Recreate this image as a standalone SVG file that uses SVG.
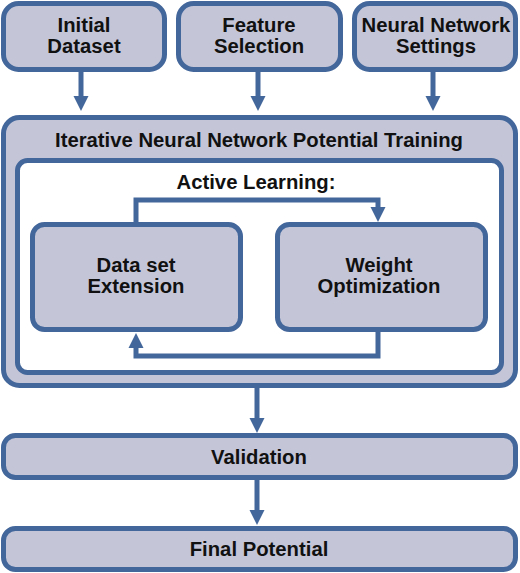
<svg xmlns="http://www.w3.org/2000/svg" width="520" height="573" viewBox="0 0 520 573">
<defs>
<style>
.box{fill:#c4c6d8;stroke:#44679b;stroke-width:5}
.white{fill:#ffffff;stroke:#44679b;stroke-width:5}
.t{font-family:"Liberation Sans",Arial,sans-serif;font-weight:bold;font-size:20.3px;fill:#111;text-anchor:middle}
.ln{fill:none;stroke:#44679b;stroke-width:5}
.hd{fill:#44679b}
</style>
</defs>
<g id="initial-dataset">
<rect class="box" x="3.5" y="3.5" width="161" height="66" rx="15"/>
<text class="t" x="84" y="32">Initial</text>
<text class="t" x="84" y="52.5">Dataset</text>
</g>
<g id="feature-selection">
<rect class="box" x="178.5" y="3.5" width="162" height="66" rx="15"/>
<text class="t" x="259" y="32">Feature</text>
<text class="t" x="259" y="52.5">Selection</text>
</g>
<g id="nn-settings">
<rect class="box" x="354.5" y="3.5" width="161" height="66" rx="15"/>
<text class="t" x="436" y="32">Neural Network</text>
<text class="t" x="436" y="52.5">Settings</text>
</g>
<g id="training">
<rect class="box" x="3.5" y="117.5" width="512" height="268" rx="16"/>
<text class="t" x="259" y="147">Iterative Neural Network Potential Training</text>
<rect class="white" x="17.5" y="160.5" width="484" height="212" rx="10"/>
<text class="t" x="256" y="189">Active Learning:</text>
</g>
<g id="dataset-extension">
<rect class="box" x="32.5" y="224.5" width="208" height="105" rx="12"/>
<text class="t" x="136" y="272">Data set</text>
<text class="t" x="136" y="293">Extension</text>
</g>
<g id="weight-optimization">
<rect class="box" x="277.5" y="224.5" width="208" height="105" rx="12"/>
<text class="t" x="379" y="272">Weight</text>
<text class="t" x="379" y="293">Optimization</text>
</g>
<g id="validation">
<rect class="box" x="3.5" y="435.5" width="512" height="42" rx="12"/>
<text class="t" x="259" y="464">Validation</text>
</g>
<g id="final-potential">
<rect class="box" x="3.5" y="528.5" width="512" height="41" rx="12"/>
<text class="t" x="259" y="556">Final Potential</text>
</g>
<g id="connectors">
<path class="ln" d="M81 71V98"/><path class="hd" d="M73.5 96H88.5L81 111Z"/>
<path class="ln" d="M258 71V98"/><path class="hd" d="M250.5 96H265.5L258 111Z"/>
<path class="ln" d="M433 71V98"/><path class="hd" d="M425.5 96H440.5L433 111Z"/>
<path class="ln" d="M136 223V200H378V210"/><path class="hd" d="M370.5 207H385.5L378 222Z"/>
<path class="ln" d="M378 331V356H136V346"/><path class="hd" d="M128.5 348H143.5L136 333Z"/>
<path class="ln" d="M257 387V420"/><path class="hd" d="M249.5 418H264.5L257 433Z"/>
<path class="ln" d="M257 479V512"/><path class="hd" d="M249.5 510H264.5L257 525Z"/>
</g>
</svg>
